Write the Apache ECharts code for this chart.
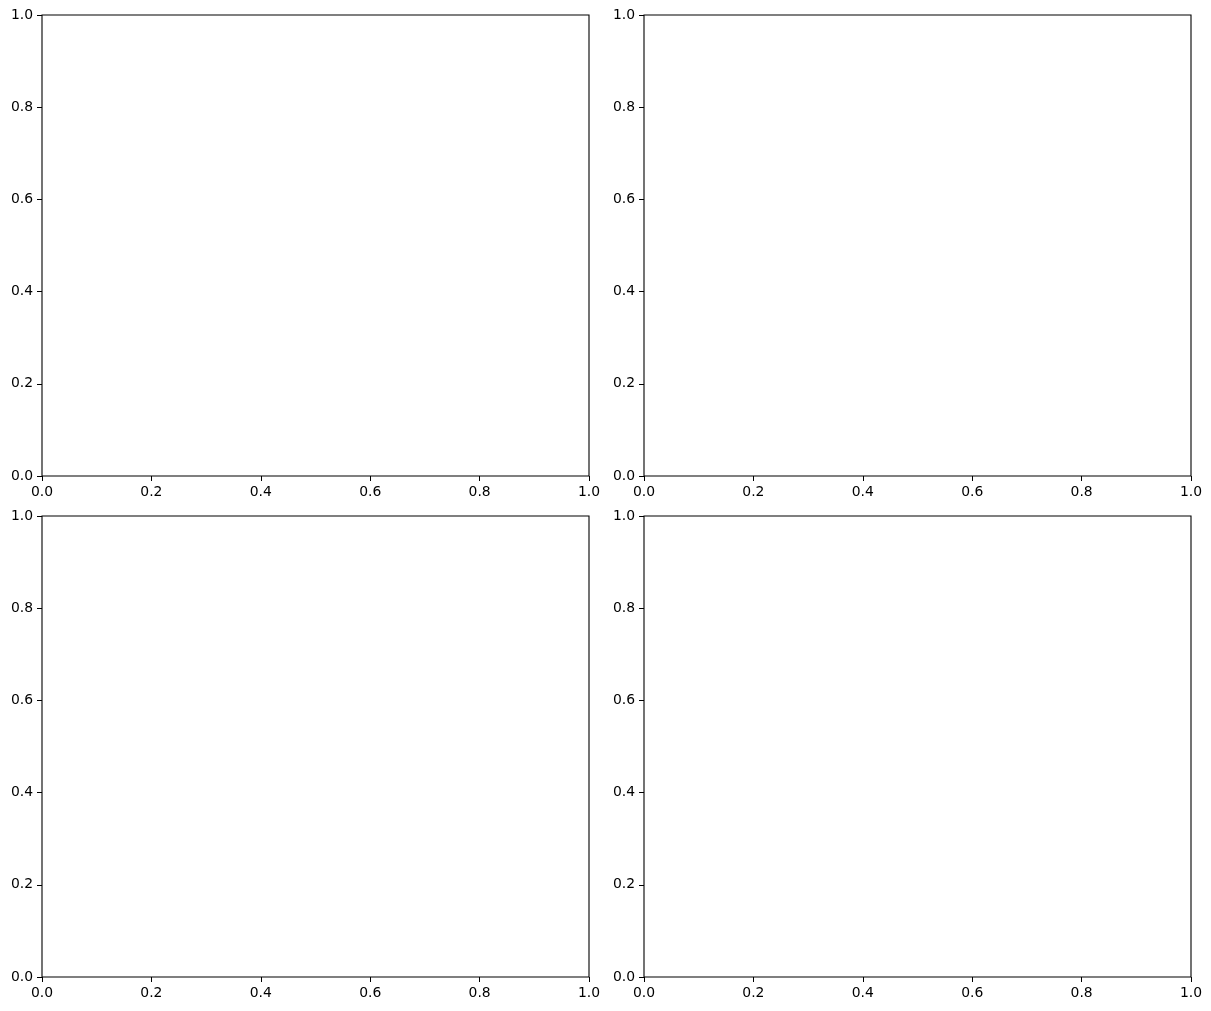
<!DOCTYPE html>
<html>
<head>
<meta charset="utf-8">
<script src="https://cdn.jsdelivr.net/npm/echarts@6/dist/echarts.min.js"></script>
<style>
html,body{margin:0;padding:0;background:#fff;}
#chart{width:1211px;height:1011px;}
</style>
</head>
<body>
<div id="chart"></div>
<script>
// Four empty panels, each with axes from 0.0 to 1.0
const panels = ['top-left', 'top-right', 'bottom-left', 'bottom-right'];
const axisMin = 0;
const axisMax = 1;
const tickStep = 0.2;
const panelSeries = [[], [], [], []];

const gridBoxes = [
  {left: 42, top: 15, width: 547, height: 461},
  {left: 644, top: 15, width: 547, height: 461},
  {left: 42, top: 516, width: 547, height: 461},
  {left: 644, top: 516, width: 547, height: 461}
];

const font = {fontFamily: 'DejaVu Sans', fontSize: 13.9, color: '#000'};

function axis(type, i) {
  return {
    type: 'value',
    gridIndex: i,
    min: axisMin,
    max: axisMax,
    interval: tickStep,
    position: type === 'x' ? 'bottom' : 'left',
    axisLine: {show: false},
    axisTick: {show: true, inside: false, length: 5, lineStyle: {color: '#000', width: 1}},
    axisLabel: Object.assign({show: true, margin: 9, formatter: v => v.toFixed(1)}, font),
    splitLine: {show: false}
  };
}

const chart = echarts.init(document.getElementById('chart'), null, {renderer: 'canvas'});
chart.setOption({
  backgroundColor: '#fff',
  animation: false,
  grid: gridBoxes.map(g => Object.assign({show: true, borderColor: '#000', borderWidth: 1.1, backgroundColor: 'transparent', containLabel: false}, g)),
  xAxis: panels.map((p, i) => axis('x', i)),
  yAxis: panels.map((p, i) => axis('y', i)),
  series: panels.map((p, i) => ({
    name: p,
    type: 'line',
    xAxisIndex: i,
    yAxisIndex: i,
    data: panelSeries[i]
  }))
});
</script>
</body>
</html>
